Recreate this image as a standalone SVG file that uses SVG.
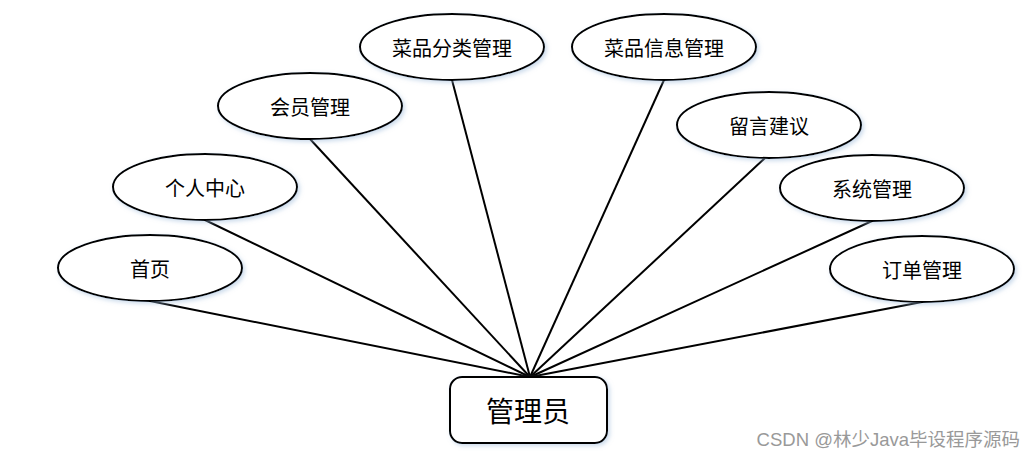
<svg xmlns="http://www.w3.org/2000/svg" width="1036" height="459" viewBox="0 0 1036 459">
<defs>
<filter id="sh" x="-20%" y="-30%" width="140%" height="160%"><feDropShadow dx="2" dy="2" stdDeviation="2" flood-color="#9ab8d8" flood-opacity="0.5"/></filter>
<style>
.e{fill:#fff;stroke:#000;stroke-width:2;filter:url(#sh)}
.t{font-family:"Noto Sans CJK SC","Liberation Sans",sans-serif;font-size:20px;text-anchor:middle;dominant-baseline:central;fill:#000}
.c line{stroke:#000;stroke-width:2}
</style>
</defs>
<rect width="1036" height="459" fill="#fff"/>
<g class="c">
<line x1="150" y1="301" x2="530" y2="377"/>
<line x1="205" y1="220" x2="530" y2="377"/>
<line x1="310" y1="139" x2="530" y2="377"/>
<line x1="452" y1="80" x2="530" y2="377"/>
<line x1="664" y1="80" x2="530" y2="377"/>
<line x1="765" y1="158" x2="530" y2="377"/>
<line x1="872" y1="221" x2="530" y2="377"/>
<line x1="922" y1="302" x2="530" y2="377"/>
</g>
<g id="n1"><ellipse class="e" cx="150" cy="268" rx="92" ry="33"/><text class="t" x="150" y="268">首页</text></g>
<g id="n2"><ellipse class="e" cx="205" cy="187" rx="92" ry="33"/><text class="t" x="205" y="187">个人中心</text></g>
<g id="n3"><ellipse class="e" cx="310" cy="106" rx="92" ry="33"/><text class="t" x="310" y="106">会员管理</text></g>
<g id="n4"><ellipse class="e" cx="452" cy="47" rx="92" ry="33"/><text class="t" x="452" y="47">菜品分类管理</text></g>
<g id="n5"><ellipse class="e" cx="664" cy="47" rx="92" ry="33"/><text class="t" x="664" y="47">菜品信息管理</text></g>
<g id="n6"><ellipse class="e" cx="769" cy="125" rx="92" ry="33"/><text class="t" x="769" y="125">留言建议</text></g>
<g id="n7"><ellipse class="e" cx="872" cy="188" rx="92" ry="33"/><text class="t" x="872" y="188">系统管理</text></g>
<g id="n8"><ellipse class="e" cx="922" cy="269" rx="92" ry="33"/><text class="t" x="922" y="269">订单管理</text></g>
<g id="admin"><rect class="e" x="450" y="377" width="157" height="66" rx="12"/><text class="t" x="528" y="410" style="font-size:28px">管理员</text></g>
<text x="1020" y="446" text-anchor="end" font-family="Liberation Sans,'Noto Sans CJK SC',sans-serif" font-size="18.5" fill="#999">CSDN @林少Java毕设程序源码</text>
</svg>
